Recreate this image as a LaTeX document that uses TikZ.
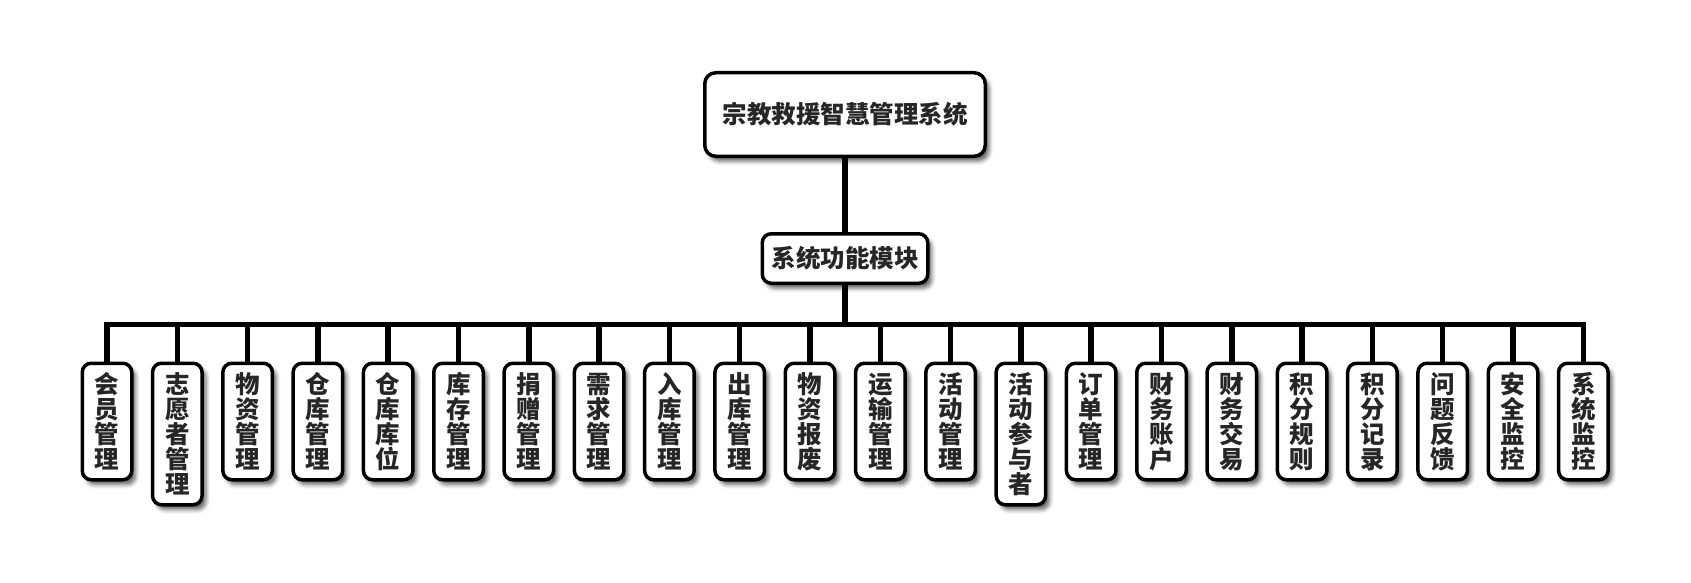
\documentclass[tikz,border=0pt]{standalone}
\usepackage{fontspec}
\newfontfamily\cjk{Noto Sans CJK SC}
\usetikzlibrary{positioning,shadows.blur}

\begin{document}
\begin{tikzpicture}[
    x=1pt, y=-1pt,
    box/.style={rectangle, draw, line width=3.5pt, fill=white, text=black!85, font=\cjk\bfseries\fontsize{24.5}{25}\selectfont, blur shadow={shadow xshift=4pt, shadow yshift=-5pt, shadow blur radius=4pt, shadow opacity=60}},
    sysbox/.style={box, minimum width=280.5pt, minimum height=83.5pt, rounded corners=11pt},
    funcbox/.style={box, minimum width=165.5pt, minimum height=49.5pt, rounded corners=9pt},
    module/.style={box, anchor=north, align=center, inner sep=0pt, minimum width=49.5pt, minimum height=116.5pt, rounded corners=9pt},
    longmodule/.style={module, minimum height=141.5pt},
    link/.style={line width=5.5pt}
]
    \useasboundingbox (0,0) rectangle (1691,583);

    % Top levels
    \node [sysbox] (sys) at (845,114.5) {宗教救援智慧管理系统};
    \node [funcbox, below=74pt of sys] (func) {系统功能模块};
    \coordinate [below=39.5pt of func.south] (bus);

    % Modules
    \node [module] (m1) at (107,361.5) {会\\员\\管\\理};
    \node [longmodule] (m2) at ([xshift=70.3pt]m1.north) {志\\愿\\者\\管\\理};
    \node [module] (m3) at ([xshift=70.3pt]m2.north) {物\\资\\管\\理};
    \node [module] (m4) at ([xshift=70.3pt]m3.north) {仓\\库\\管\\理};
    \node [module] (m5) at ([xshift=70.3pt]m4.north) {仓\\库\\库\\位};
    \node [module] (m6) at ([xshift=70.3pt]m5.north) {库\\存\\管\\理};
    \node [module] (m7) at ([xshift=70.3pt]m6.north) {捐\\赠\\管\\理};
    \node [module] (m8) at ([xshift=70.3pt]m7.north) {需\\求\\管\\理};
    \node [module] (m9) at ([xshift=70.3pt]m8.north) {入\\库\\管\\理};
    \node [module] (m10) at ([xshift=70.3pt]m9.north) {出\\库\\管\\理};
    \node [module] (m11) at ([xshift=70.3pt]m10.north) {物\\资\\报\\废};
    \node [module] (m12) at ([xshift=70.3pt]m11.north) {运\\输\\管\\理};
    \node [module] (m13) at ([xshift=70.3pt]m12.north) {活\\动\\管\\理};
    \node [longmodule] (m14) at ([xshift=70.3pt]m13.north) {活\\动\\参\\与\\者};
    \node [module] (m15) at ([xshift=70.3pt]m14.north) {订\\单\\管\\理};
    \node [module] (m16) at ([xshift=70.3pt]m15.north) {财\\务\\账\\户};
    \node [module] (m17) at ([xshift=70.3pt]m16.north) {财\\务\\交\\易};
    \node [module] (m18) at ([xshift=70.3pt]m17.north) {积\\分\\规\\则};
    \node [module] (m19) at ([xshift=70.3pt]m18.north) {积\\分\\记\\录};
    \node [module] (m20) at ([xshift=70.3pt]m19.north) {问\\题\\反\\馈};
    \node [module] (m21) at ([xshift=70.3pt]m20.north) {安\\全\\监\\控};
    \node [module] (m22) at ([xshift=70.3pt]m21.north) {系\\统\\监\\控};

    % Links
    \draw [link] (sys) -- (func);
    \draw [link] (func) -- (bus);
    \draw [link] (bus) -| (m1.north);
    \draw [link] (bus) -| (m2.north);
    \draw [link] (bus) -| (m3.north);
    \draw [link] (bus) -| (m4.north);
    \draw [link] (bus) -| (m5.north);
    \draw [link] (bus) -| (m6.north);
    \draw [link] (bus) -| (m7.north);
    \draw [link] (bus) -| (m8.north);
    \draw [link] (bus) -| (m9.north);
    \draw [link] (bus) -| (m10.north);
    \draw [link] (bus) -| (m11.north);
    \draw [link] (bus) -| (m12.north);
    \draw [link] (bus) -| (m13.north);
    \draw [link] (bus) -| (m14.north);
    \draw [link] (bus) -| (m15.north);
    \draw [link] (bus) -| (m16.north);
    \draw [link] (bus) -| (m17.north);
    \draw [link] (bus) -| (m18.north);
    \draw [link] (bus) -| (m19.north);
    \draw [link] (bus) -| (m20.north);
    \draw [link] (bus) -| (m21.north);
    \draw [link] (bus) -| (m22.north);
\end{tikzpicture}
\end{document}
